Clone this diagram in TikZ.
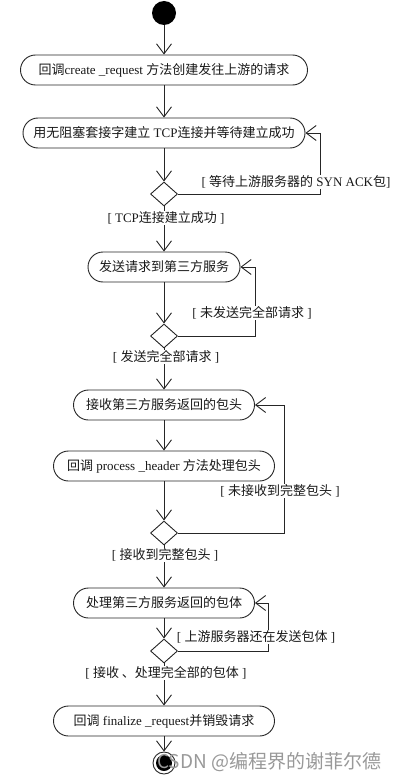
\documentclass[tikz,border=0pt]{standalone}
\usepackage{fontspec}
\setmainfont{Liberation Serif}
\newfontfamily\cjk{Noto Sans CJK SC}
\usetikzlibrary{arrows.meta,shapes.geometric}
\begin{document}
\begin{tikzpicture}[x=1pt,y=-1pt,
  act/.style={draw=black!85, line width=0.9pt, rounded corners=15pt, minimum height=30pt, inner sep=0pt, font=\fontsize{13}{15}\selectfont, text=black!90},
  dec/.style={draw=black!85, line width=0.9pt, diamond, minimum width=27pt, minimum height=24pt, inner sep=0pt},
  guard/.style={fill=white, inner sep=1pt, font=\fontsize{13}{15}\selectfont, text=black!90},
  flow/.style={draw=black!85, line width=0.9pt, -{Straight Barb[length=10pt,width=15pt,line width=0.9pt]}},
]
\useasboundingbox (0,0) rectangle (403,781);
\fill[white] (0,0) rectangle (403,781);

\node[circle, fill=black, minimum size=24pt, inner sep=0pt] (start) at (164,13) {};
\node[act, minimum width=287pt] (n1) at (164,70) {{\cjk 回调}create \_request {\cjk 方法创建发往上游的请求}};
\node[act, minimum width=282pt] (n2) at (164,133) {{\cjk 用无阻塞套接字建立} TCP{\cjk 连接并等待建立成功}};
\node[dec] (d1) at (164,194) {};
\node[act, minimum width=152pt] (n3) at (164,267) {{\cjk 发送请求到第三方服务}};
\node[dec] (d2) at (164,336) {};
\node[act, minimum width=181pt] (n4) at (164,405) {{\cjk 接收第三方服务返回的包头}};
\node[act, minimum width=221pt] (n5) at (164,466) {{\cjk 回调} process \_header {\cjk 方法处理包头}};
\node[dec] (d3) at (164,533) {};
\node[act, minimum width=181pt] (n6) at (164,603) {{\cjk 处理第三方服务返回的包体}};
\node[dec] (d4) at (164,651) {};
\node[act, minimum width=221pt] (n7) at (164,721) {{\cjk 回调} finalize \_request{\cjk 并销毁请求}};
\node[circle, draw=black!85, line width=0.9pt, minimum size=22pt, inner sep=0pt] (end) at (164,763) {};
\node[circle, fill=black, minimum size=16pt, inner sep=0pt] (endin) at (164,763) {};

\coordinate (r1) at (320,133);
\coordinate (r2) at (255,267);
\coordinate (r3) at (284,405);
\coordinate (r4) at (268,603);

\draw[flow] (start.south) -- (n1.north);
\draw[flow] (n1.south) -- (n2.north);
\draw[flow] (n2.south) -- (d1.north);
\draw[flow] (d1.east) -| (r1) -- (n2.east);
\draw[flow] (d1.south) -- (n3.north);
\draw[flow] (n3.south) -- (d2.north);
\draw[flow] (d2.east) -| (r2) -- (n3.east);
\draw[flow] (d2.south) -- (n4.north);
\draw[flow] (n4.south) -- (n5.north);
\draw[flow] (n5.south) -- (d3.north);
\draw[flow] (d3.east) -| (r3) -- (n4.east);
\draw[flow] (d3.south) -- (n6.north);
\draw[flow] (n6.south) -- (d4.north);
\draw[flow] (d4.east) -| (r4) -- (n6.east);
\draw[flow] (d4.south) -- (n7.north);
\draw[flow] (n7.south) -- (end.north);

\node[guard] (g1) at (296,182) {[ {\cjk 等待上游服务器的} SYN ACK{\cjk 包}]};
\node[guard] (g2) at (166,218) {[ TCP{\cjk 连接建立成功} ]};
\node[guard] (g3) at (252,313) {[ {\cjk 未发送完全部请求} ]};
\node[guard] (g4) at (166,357) {[ {\cjk 发送完全部请求} ]};
\node[guard] (g5) at (280,491) {[ {\cjk 未接收到完整包头} ]};
\node[guard] (g6) at (165,555) {[ {\cjk 接收到完整包头} ]};
\node[guard] (g7) at (256,637) {[ {\cjk 上游服务器还在发送包体} ]};
\node[guard] (g8) at (166,673) {[ {\cjk 接收 、处理完全部的包体} ]};

\node[anchor=west, text=black!40, inner sep=0pt, font=\cjk\fontsize{19}{21}\selectfont] (wm) at (157,762) {CSDN @编程界的谢菲尔德};
\end{tikzpicture}
\end{document}
